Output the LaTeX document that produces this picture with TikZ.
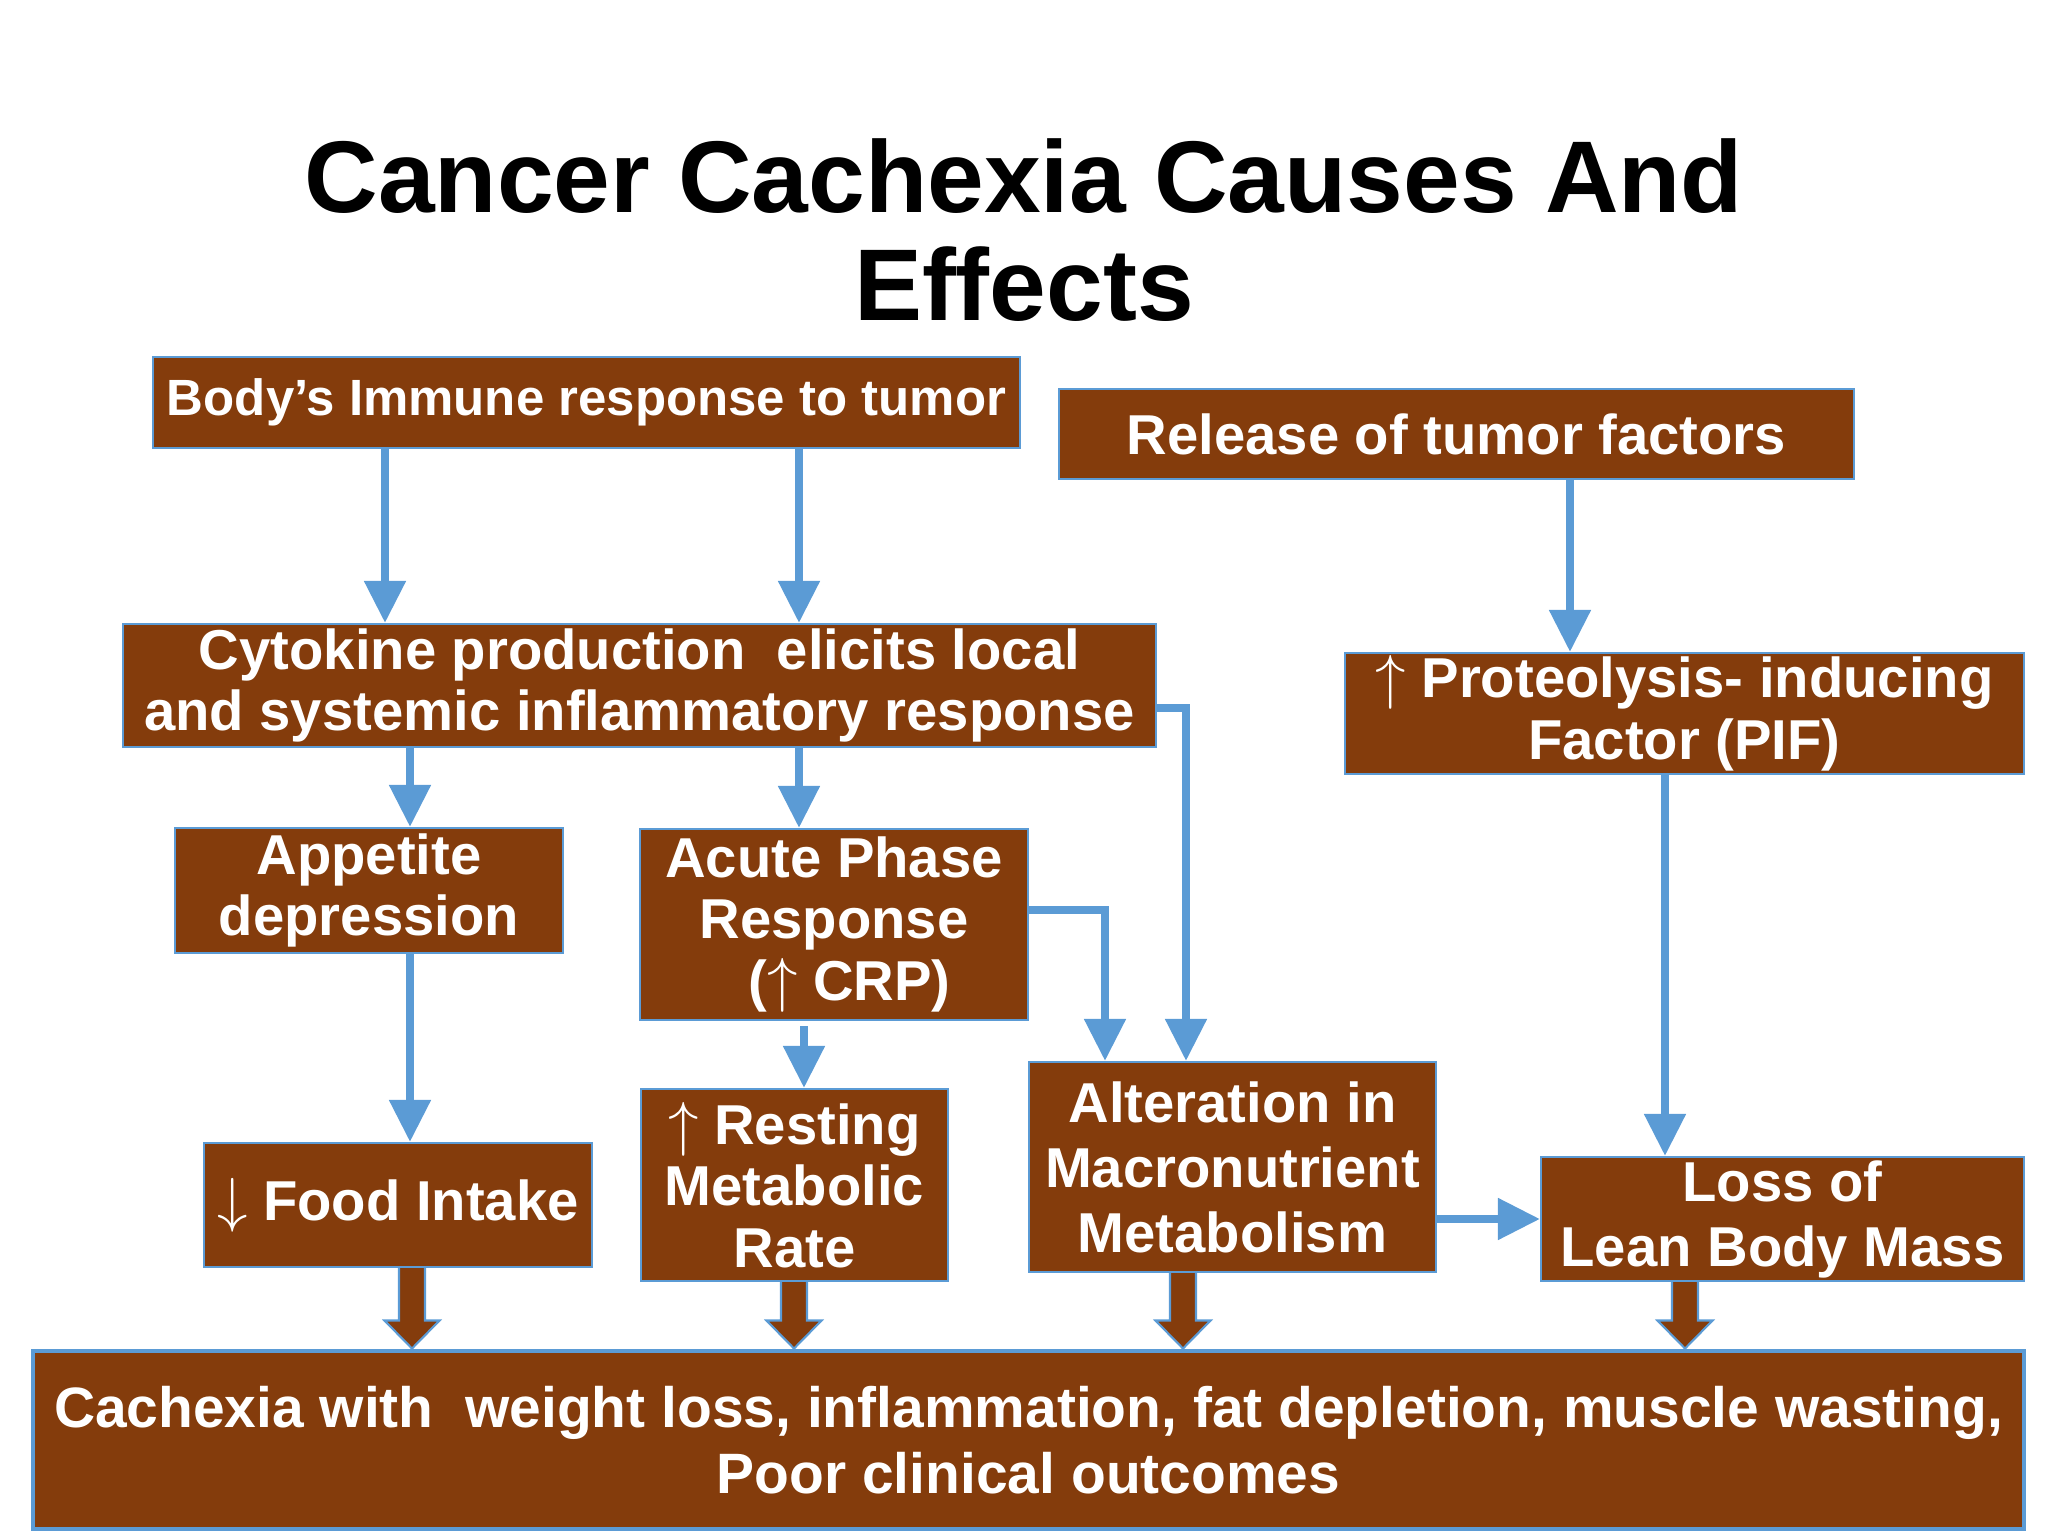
\documentclass[tikz,border=0pt]{standalone}
\usepackage{fontspec}
\setmainfont{Liberation Sans}
\usetikzlibrary{arrows.meta,calc}
\definecolor{boxbrown}{HTML}{843C0C}
\definecolor{linkblue}{HTML}{5B9BD5}
\newcommand{\up}{$\uparrow$}
\newcommand{\down}{$\downarrow$}
\tikzset{
  box/.style={draw=linkblue, line width=0.6pt, fill=boxbrown, text=white,
    font=\bfseries\fontsize{16}{17.5}\selectfont, align=center, inner sep=0pt},
  link/.style={draw=linkblue, line width=2.3pt, -{Triangle[width=0.4cm,length=0.42cm]}},
  fat/.style={fill=boxbrown, draw=linkblue, line width=0.6pt}
}
% brown block arrow from #1 down to #2
\newcommand{\fatarrow}[2]{%
  \filldraw[fat] ($(#1)+(-0.13,0)$) -- ($(#2)+(-0.13,0.28)$) -- ($(#2)+(-0.275,0.28)$)
    -- (#2) -- ($(#2)+(0.275,0.28)$) -- ($(#2)+(0.13,0.28)$) -- ($(#1)+(0.13,0)$);}
\begin{document}
\begin{tikzpicture}
  \useasboundingbox (0,0) rectangle (20.48,-15.36);

  \node[font=\bfseries\fontsize{29}{30.7}\selectfont, align=center] (title) at (10.24,-2.30)
    {Cancer Cachexia Causes And\\Effects};

  \node[box, minimum width=8.67cm, minimum height=0.91cm, font=\bfseries\fontsize{14.5}{16}\selectfont]
    (immune) at (5.865,-4.025) {Body’s Immune response to tumor};
  \node[box, minimum width=7.95cm, minimum height=0.90cm] (release) at (14.565,-4.34) {Release of tumor factors};
  \node[box, minimum width=10.33cm, minimum height=1.23cm] (cytokine) at (6.395,-6.855)
    {Cytokine production~ elicits local\\and systemic inflammatory response};
  \node[box, minimum width=6.79cm, minimum height=1.21cm] (pif) at (16.845,-7.135)
    {\up{} Proteolysis- inducing\\Factor (PIF)};
  \node[box, minimum width=3.88cm, minimum height=1.25cm] (appetite) at (3.69,-8.905) {Appetite\\depression};
  \node[box, minimum width=3.88cm, minimum height=1.91cm] (acute) at (8.34,-9.245)
    {Acute Phase\\Response\\~~(\up{} CRP)};
  \node[box, minimum width=3.88cm, minimum height=1.24cm] (food) at (3.98,-12.05) {\down{} Food Intake};
  \node[box, minimum width=3.07cm, minimum height=1.92cm] (resting) at (7.945,-11.85)
    {\up{} Resting\\Metabolic\\Rate};
  \node[box, minimum width=4.07cm, minimum height=2.10cm, font=\bfseries\fontsize{16}{18.5}\selectfont]
    (alteration) at (12.325,-11.67) {Alteration in\\Macronutrient\\Metabolism};
  \node[box, minimum width=4.83cm, minimum height=1.24cm, font=\bfseries\fontsize{16}{18.5}\selectfont]
    (loss) at (17.825,-12.19) {Loss of\\Lean Body Mass};
  \node[box, minimum width=19.91cm, minimum height=1.78cm, line width=1.4pt, font=\bfseries\fontsize{16.2}{18.8}\selectfont]
    (outcome) at (10.285,-14.40)
    {Cachexia with~ weight loss, inflammation, fat depletion, muscle wasting,\\Poor clinical outcomes};

  % columns and rows of the connectors
  \coordinate (x1) at (3.85,0);
  \coordinate (x2) at (7.99,0);
  \coordinate (x3) at (4.10,0);
  \coordinate (x4) at (8.04,0);
  \coordinate (x5) at (15.70,0);
  \coordinate (x6) at (16.65,0);
  \coordinate (x7) at (11.86,0);
  \coordinate (x8) at (11.05,0);
  \coordinate (y1) at (0,-7.08);
  \coordinate (y2) at (0,-9.10);
  \coordinate (b1) at (4.12,0);
  \coordinate (b2) at (7.94,0);
  \coordinate (b3) at (11.83,0);
  \coordinate (b4) at (16.85,0);

  \draw[link] (immune.south -| x1) -- (cytokine.north -| x1);
  \draw[link] (immune.south -| x2) -- (cytokine.north -| x2);
  \draw[link] (release.south -| x5) -- (pif.north -| x5);
  \draw[link] (cytokine.south -| x3) -- (appetite.north -| x3);
  \draw[link] (cytokine.south -| x2) -- (acute.north -| x2);
  \draw[link] (cytokine.east |- y1) -| (alteration.north -| x7);
  \draw[link] (acute.east |- y2) -| (alteration.north -| x8);
  \draw[link] (appetite.south -| x3) -- (food.north -| x3);
  \draw[link] ($(acute.south -| x4)+(0,-0.05)$) -- (resting.north -| x4);
  \draw[link] (pif.south -| x6) -- (loss.north -| x6);
  \draw[link] (alteration.east |- loss) -- (loss.west);

  \fatarrow{food.south -| b1}{outcome.north -| b1}
  \fatarrow{resting.south -| b2}{outcome.north -| b2}
  \fatarrow{alteration.south -| b3}{outcome.north -| b3}
  \fatarrow{loss.south -| b4}{outcome.north -| b4}
\end{tikzpicture}
\end{document}
